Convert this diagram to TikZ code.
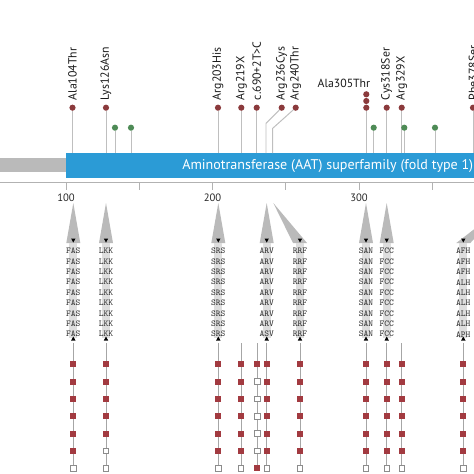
\documentclass[tikz,border=0pt]{standalone}
\usepackage{fontspec}
\setmainfont{PT Sans}
\usetikzlibrary{positioning}
\definecolor{aatblue}{HTML}{2B9BD6}
\definecolor{mutred}{HTML}{8B3A3C}
\definecolor{polygreen}{HTML}{4E8B56}
\definecolor{sqred}{HTML}{A23A40}

\begin{document}
\begin{tikzpicture}[
    x=0.025cm, y=-0.025cm,
    stem/.style={draw=black!25, line width=0.7pt},
    mut/.style={circle, fill=mutred, inner sep=0pt, minimum size=4.4pt},
    poly/.style={circle, fill=polygreen, inner sep=0pt, minimum size=4.4pt},
    mutlabel/.style={rotate=90, anchor=west, inner sep=0pt, text=black!90, font=\fontsize{8.4}{10}\selectfont},
    wedge/.style={fill=black!27},
    band/.style={fill=black!13},
    tri/.style={fill=black},
    seq/.style={inner sep=0pt, text=black!80, font=\ttfamily\fontsize{6.4}{7}\selectfont},
    track/.style={draw=black!35, line width=0.6pt},
    hit/.style={fill=sqred, inner sep=0pt, minimum size=4.4pt},
    miss/.style={draw=black!45, fill=white, line width=0.5pt, inner sep=0pt, minimum size=4pt}
  ]
  \useasboundingbox (0,0) rectangle (474,474);

  % protein and domain
  \fill[black!27] (0,158) rectangle (66,172);
  \fill[aatblue] (66,153) rectangle (474,178);
  \node[anchor=west, inner sep=0pt, text=white, font=\fontsize{10}{12}\selectfont] (dom) at (182,166) {Aminotransferase (AAT) superfamily (fold type 1)};

  % residue axis
  \draw[black!30, line width=0.6pt] (0,182) -- (474,182);
  \foreach \x in {66,139.25,212.5,285.75,359,432.25}
    \draw[black!30, line width=0.6pt] (\x,182) -- (\x,190);
  \foreach \x/\n in {66/100,212.5/200,359/300}
    \node[text=black!85, font=\fontsize{7.6}{9}\selectfont] (n\n) at (\x,197.5) {\n};

  % mutations
  \foreach \x/\lab [count=\i] in {72.5/Ala104Thr,106/Lys126Asn,218/Arg203His,241.3/Arg219X,256.7/{c.690+2T>C},386.7/Cys318Ser,401.7/Arg329X,473/Phe378Ser}{
    \node[mut] (m\i) at (\x,107.7) {};
    \coordinate (mb\i) at (\x,153);
    \draw[stem] (m\i) -- (mb\i);
    \node[mutlabel] (ml\i) at (\x,100.5) {\lab};
  }
  \node[mut] (m9) at (281.7,107.7) {};
  \node[mut] (m10) at (295.7,107.7) {};
  \coordinate (k9) at (266,123.3);
  \coordinate (mb9) at (266,153);
  \coordinate (k10) at (272.7,128.3);
  \coordinate (mb10) at (272.7,153);
  \draw[stem] (m9) -- (k9) -- (mb9);
  \draw[stem] (m10) -- (k10) -- (mb10);
  \node[mutlabel] (ml9) at (281.7,100.5) {Arg236Cys};
  \node[mutlabel] (ml10) at (295.7,100.5) {Arg240Thr};

  \node[mut] (m11) at (366.3,107.7) {};
  \node[mut] (m11b) at (366.3,101) {};
  \node[mut] (m11c) at (366.3,94.3) {};
  \coordinate (mb11) at (366.3,153);
  \draw[stem] (m11) -- (mb11);
  \node[anchor=base east, inner sep=0pt, text=black!90, font=\fontsize{8.4}{10}\selectfont] (ml11) at (370.5,87.5) {Ala305Thr};

  % polymorphisms
  \foreach \x [count=\i] in {115,131,373.7,404.3,435}{
    \node[poly] (g\i) at (\x,127.7) {};
    \coordinate (gb\i) at (\x,153);
    \draw[stem] (g\i) -- (gb\i);
  }

  % alignments
  \foreach \cx/\ax/\rows [count=\j] in {
      73.3/73.3/{FAS,FAS,FAS,FAS,FAS,FAS,FAS,FAS,FAS},
      106/106/{LKK,LKK,LKK,LKK,LKK,LKK,LKK,LKK,LKK},
      218.3/218.3/{SRS,SRS,SRS,SRS,SRS,SRS,SRS,SRS,SRS},
      266.7/266.7/{ARV,ARV,ARV,ARV,ARV,ARV,ARV,ARV,ASV},
      300/273.3/{RRF,RRF,RRF,RRF,RRF,RRF,RRF,RRF,RRF},
      366/366/{SAN,SAN,SAN,SAN,SAN,SAN,SAN,SAN,SAN},
      386.7/386.7/{FCC,FCC,FCC,FCC,FCC,FCC,FCC,FCC,FCC},
      463.3/508/{AFH,AFH,AFH,ALH,ALH,ALH,ALH,ALH,APH}}{
    \fill[wedge] (\ax,203) -- (\cx-7,243) -- (\cx+7,243) -- cycle;
    \fill[band] (\cx-4,243) rectangle (\cx+4,338);
    \fill[tri] (\cx-2.2,238.5) -- (\cx+2.2,238.5) -- (\cx,242.5) -- cycle;
    \foreach \r [count=\k] in \rows
      \node[seq] (s\j-\k) at (\cx,{251+(\k-1)*10.4}) {\r};
    \fill[tri] (\cx-2.2,340.5) -- (\cx+2.2,340.5) -- (\cx,336.5) -- cycle;
  }

  % carriers
  \foreach \cx/\pat [count=\j] in {
      73.3/{hit,hit,hit,hit,hit,hit,miss},
      106/{hit,hit,hit,hit,hit,miss,miss},
      218.3/{hit,hit,hit,hit,hit,hit,miss},
      241/{hit,hit,hit,hit,hit,hit,miss},
      257.3/{hit,miss,miss,miss,miss,miss,hit},
      266.7/{hit,hit,hit,hit,hit,hit,miss},
      300/{hit,hit,hit,hit,hit,hit,miss},
      366/{hit,hit,hit,hit,hit,hit,miss},
      386.7/{hit,hit,hit,hit,hit,hit,miss},
      401.7/{hit,hit,hit,hit,hit,hit,miss},
      463.3/{hit,hit,hit,hit,hit,hit,miss}}{
    \coordinate (t\j) at (\cx,343);
    \coordinate (e\j) at (\cx,468.3);
    \draw[track] (t\j) -- (e\j);
    \foreach \s [count=\k] in \pat
      \node[\s] (q\j-\k) at (\cx,{364.3+(\k-1)*17.33}) {};
  }
\end{tikzpicture}
\end{document}
